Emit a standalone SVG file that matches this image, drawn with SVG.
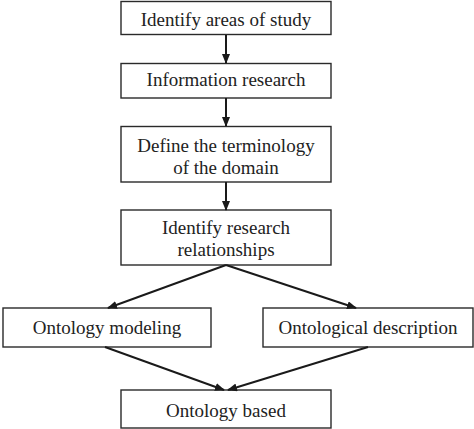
<svg xmlns="http://www.w3.org/2000/svg" width="474" height="429" viewBox="0 0 474 429">
<defs>
<marker id="ah" markerWidth="10" markerHeight="8" refX="9" refY="4" orient="auto" markerUnits="userSpaceOnUse">
<path d="M0,0 L10,4 L0,8 Z" fill="#1a1a1a"/>
</marker>
<style>
.box{fill:#fff;stroke:#2a2a2a;stroke-width:1.4}
.t{font-family:"Liberation Serif","Times New Roman",serif;font-size:19px;fill:#222;text-anchor:middle}
.c{stroke:#1a1a1a;stroke-width:2;fill:none;marker-end:url(#ah)}
</style>
</defs>
<rect width="474" height="429" fill="#fff"/>
<g id="n1"><rect class="box" x="121" y="1.5" width="210" height="33"/><text class="t" x="226" y="26">Identify areas of study</text></g>
<g id="n2"><rect class="box" x="121" y="63.5" width="210" height="34.5"/><text class="t" x="226" y="86">Information research</text></g>
<g id="n3"><rect class="box" x="121" y="126.5" width="210" height="55.5"/><text class="t" x="226" y="152">Define the terminology</text><text class="t" x="226" y="174">of the domain</text></g>
<g id="n4"><rect class="box" x="121" y="210" width="210" height="55"/><text class="t" x="226" y="234">Identify research</text><text class="t" x="226" y="256">relationships</text></g>
<g id="n5"><rect class="box" x="3" y="308" width="208" height="39"/><text class="t" x="107" y="334">Ontology modeling</text></g>
<g id="n6"><rect class="box" x="263" y="308" width="210" height="39"/><text class="t" x="368" y="334">Ontological description</text></g>
<g id="n7"><rect class="box" x="121" y="390" width="210" height="38"/><text class="t" x="226" y="417">Ontology based</text></g>
<g id="connectors">
<line class="c" x1="226" y1="35" x2="226" y2="63"/>
<line class="c" x1="226" y1="98" x2="226" y2="126"/>
<line class="c" x1="226" y1="182" x2="226" y2="210"/>
<line class="c" x1="226" y1="265" x2="108" y2="308"/>
<line class="c" x1="226" y1="265" x2="356" y2="308"/>
<line class="c" x1="105" y1="347" x2="224" y2="390"/>
<line class="c" x1="368" y1="347" x2="228" y2="390"/>
</g>
</svg>
